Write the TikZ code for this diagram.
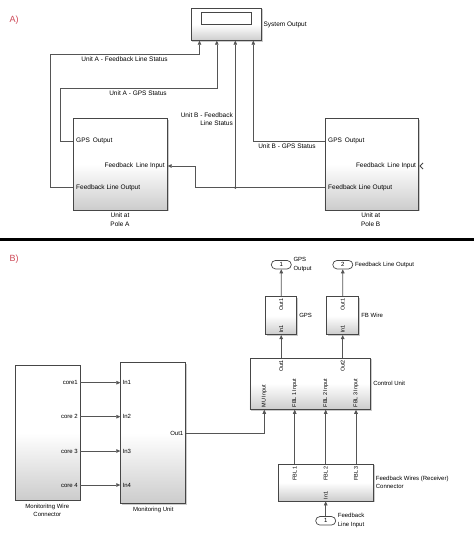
\documentclass[tikz,border=0pt]{standalone}
\usepackage{fontspec}
\setmainfont{Liberation Sans}
\usetikzlibrary{arrows.meta,calc,positioning,shadows}
\definecolor{TagRed}{RGB}{205,70,85}
\definecolor{WireGray}{RGB}{85,85,85}
\definecolor{BlockGray}{RGB}{70,70,70}

\begin{document}
\begin{tikzpicture}[x=1pt,y=-1pt,>={Triangle[length=4pt,width=3.6pt]},
    block/.style={draw=BlockGray,line width=0.8pt,top color=white,bottom color=black!20,middle color=white,
      drop shadow={shadow xshift=1.2pt,shadow yshift=-1.2pt,fill=black!45,opacity=0.45},inner sep=0pt},
    wire/.style={draw=WireGray,line width=0.6pt},
    txt/.style={inner sep=0.5pt,font=\fontsize{6.5}{8.5}\selectfont},
    small/.style={inner sep=0.5pt,font=\fontsize{6}{8.3}\selectfont},
    vtxt/.style={inner sep=0.5pt,font=\fontsize{5.5}{6.5}\selectfont,rotate=90},
    port/.style={draw=BlockGray,fill=white,line width=0.7pt,rounded corners=4.2pt,minimum width=20,
      minimum height=8.5,inner sep=0pt,font=\fontsize{6}{7}\selectfont},
    tag/.style={text=TagRed,inner sep=0pt,font=\fontsize{9}{10}\selectfont}]
  \useasboundingbox (0,0) rectangle (474,534);

  % A) two units and the system output
  \node[tag] (tagA) at (14,20) {A)};
  \node[block,minimum width=70.5,minimum height=32.5] (sysout) at (226.3,24.5) {};
  \node[draw=BlockGray,line width=0.6pt,minimum width=50,minimum height=12.3,inner sep=0pt] (display) at (226.7,18.5) {};
  \node[txt,anchor=west] (sysoutlbl) at ([xshift=1pt]sysout.east) {System Output};
  \coordinate (sysin1) at (199.5,40.7);
  \coordinate (sysin2) at (216.8,40.7);
  \coordinate (sysin3) at (235.3,40.7);
  \coordinate (sysin4) at (253.3,40.7);

  \node[block,minimum width=94,minimum height=91.7] (unitA) at (120.3,164.2) {};
  \node[txt,anchor=west] (gpsA) at (75.5,141) {GPS\,\ Output};
  \node[txt,anchor=east] (fbiA) at (165.3,166) {Feedback\,\ Line Input};
  \node[txt,anchor=west] (fboA) at (75.5,187.7) {Feedback Line Output};
  \node[txt,align=center,anchor=north] (unitAlbl) at (120,212.5) {Unit at\\Pole A};

  \node[block,minimum width=93.7,minimum height=91.7] (unitB) at (371.8,164.2) {};
  \node[txt,anchor=west] (gpsB) at (327.5,141) {GPS\,\ Output};
  \node[txt,anchor=east] (fbiB) at (416.7,166) {Feedback\,\ Line Input};
  \node[txt,anchor=west] (fboB) at (327.5,187.7) {Feedback Line Output};
  \node[txt,align=center,anchor=north] (unitBlbl) at (370.7,212.5) {Unit at\\Pole B};

  \coordinate (junc) at (sysin3 |- fboB);
  \draw[wire,->] (unitA.west |- fboA) -| (50.7,54.7) -| (sysin1);
  \draw[wire,->] (unitA.west |- gpsA) -| (60,88) -| (sysin2);
  \draw[wire,->] (unitB.west |- gpsB) -| (sysin4);
  \draw[wire] (unitB.west |- fboB) -- (junc);
  \draw[wire,->] (junc) -- (sysin3);
  \draw[wire,->] (junc) -| (195,166) -- (unitA.east |- fbiA);
  \fill[WireGray] (junc) circle (1.3pt);
  \draw[BlockGray,line width=0.9pt] ([xshift=4pt,yshift=3pt]unitB.east |- fbiB) -- ([xshift=1pt]unitB.east |- fbiB)
    -- ([xshift=4pt,yshift=-3pt]unitB.east |- fbiB);

  \node[txt,anchor=north] (statA1) at (124.5,56.5) {Unit A - Feedback Line Status};
  \node[txt,anchor=north] (statA2) at (138,89.8) {Unit A - GPS Status};
  \node[txt,align=right,anchor=east] (statB1) at (233.5,119) {Unit B - Feedback\\Line Status};
  \node[txt,anchor=north] (statB2) at (287,142.8) {Unit B - GPS Status};

  \draw[line width=3pt] (0,239) -- (474,239);

  % B) monitoring chain
  \node[tag] (tagB) at (14,259.5) {B)};
  \node[port] (outgps) at (281.3,264.7) {1};
  \node[small,align=left,anchor=west] (outgpslbl) at (292.8,264.5) {GPS\\Output};
  \node[port] (outfb) at (342.8,264.7) {2};
  \node[small,anchor=west] (outfblbl) at (354.3,264.5) {Feedback Line Output};

  \node[block,minimum width=31,minimum height=38] (gps) at (281.2,315.7) {};
  \node[vtxt,anchor=east] (gpsout) at (281.2,298) {Out1};
  \node[vtxt,anchor=west] (gpsin) at (281.2,333.5) {In1};
  \node[small,anchor=west] (gpslbl) at ([xshift=1.5pt]gps.east) {GPS};
  \node[block,minimum width=32,minimum height=38] (fbw) at (342.7,315.7) {};
  \node[vtxt,anchor=east] (fbwout) at (342.7,298) {Out1};
  \node[vtxt,anchor=west] (fbwin) at (342.7,333.5) {In1};
  \node[small,anchor=west] (fbwlbl) at ([xshift=1.5pt]fbw.east) {FB Wire};

  \node[block,minimum width=120.7,minimum height=51.3] (ctrl) at (310.3,383.7) {};
  \node[vtxt,anchor=east] (ctrlout1) at (281.2,359.3) {Out1};
  \node[vtxt,anchor=east] (ctrlout2) at (342.7,359.3) {Out2};
  \node[vtxt,anchor=west] (muin) at (264.3,408) {MU Input};
  \node[vtxt,anchor=west] (fbl1in) at (294.7,408) {FBL 1 Input};
  \node[vtxt,anchor=west] (fbl2in) at (325.7,408) {FBL 2 Input};
  \node[vtxt,anchor=west] (fbl3in) at (356,408) {FBL 3 Input};
  \node[small,anchor=west] (ctrllbl) at ([xshift=1.5pt]ctrl.east) {Control Unit};

  \node[block,minimum width=95,minimum height=37] (fbconn) at (325.8,482.5) {};
  \node[vtxt,anchor=east] (fbl1) at (294.7,465.5) {FBL 1};
  \node[vtxt,anchor=east] (fbl2) at (325.7,465.5) {FBL 2};
  \node[vtxt,anchor=east] (fbl3) at (356,465.5) {FBL 3};
  \node[vtxt,anchor=west] (fbconnin) at (325.7,500) {In1};
  \node[small,align=left,anchor=west] (fbconnlbl) at ([xshift=1.5pt]fbconn.east) {Feedback Wires (Receiver)\\Connector};

  \node[port] (infb) at (325.7,520.8) {1};
  \node[small,align=left,anchor=west] (infblbl) at (337.2,520.5) {Feedback\\Line Input};

  \node[block,minimum width=65,minimum height=134.3] (mwc) at (47.5,432.8) {};
  \node[small,anchor=east] (core1) at (78.5,382.7) {core1};
  \node[small,anchor=east] (core2) at (78.5,416.7) {core 2};
  \node[small,anchor=east] (core3) at (78.5,451) {core 3};
  \node[small,anchor=east] (core4) at (78.5,485) {core 4};
  \node[small,align=center,anchor=north] (mwclbl) at (47.3,503.5) {Monitoritng Wire\\Connector};

  \node[block,minimum width=65,minimum height=140.6] (mu) at (153.2,433) {};
  \node[small,anchor=west] (in1) at (122,382.7) {In1};
  \node[small,anchor=west] (in2) at (122,416.7) {In2};
  \node[small,anchor=west] (in3) at (122,451) {In3};
  \node[small,anchor=west] (in4) at (122,485) {In4};
  \node[small,anchor=east] (muout) at (184,433.3) {Out1};
  \node[small,anchor=north] (mulbl) at (153.3,506.5) {Monitoring Unit};

  \draw[wire,->] (mwc.east |- core1) -- (mu.west |- in1);
  \draw[wire,->] (mwc.east |- core2) -- (mu.west |- in2);
  \draw[wire,->] (mwc.east |- core3) -- (mu.west |- in3);
  \draw[wire,->] (mwc.east |- core4) -- (mu.west |- in4);
  \draw[wire,->] (mu.east |- muout) -| (muin |- ctrl.south);

  \draw[wire,->] (fbl1in |- fbconn.north) -- (fbl1in |- ctrl.south);
  \draw[wire,->] (fbl2in |- fbconn.north) -- (fbl2in |- ctrl.south);
  \draw[wire,->] (fbl3in |- fbconn.north) -- (fbl3in |- ctrl.south);
  \draw[wire,->] (infb) -- (infb |- fbconn.south);

  \draw[wire,->] (ctrlout1 |- ctrl.north) -- (gps.south);
  \draw[wire,->] (ctrlout2 |- ctrl.north) -- (fbw.south);
  \draw[wire,->] (gps.north) -- (outgps);
  \draw[wire,->] (fbw.north) -- (outfb);
\end{tikzpicture}
\end{document}
